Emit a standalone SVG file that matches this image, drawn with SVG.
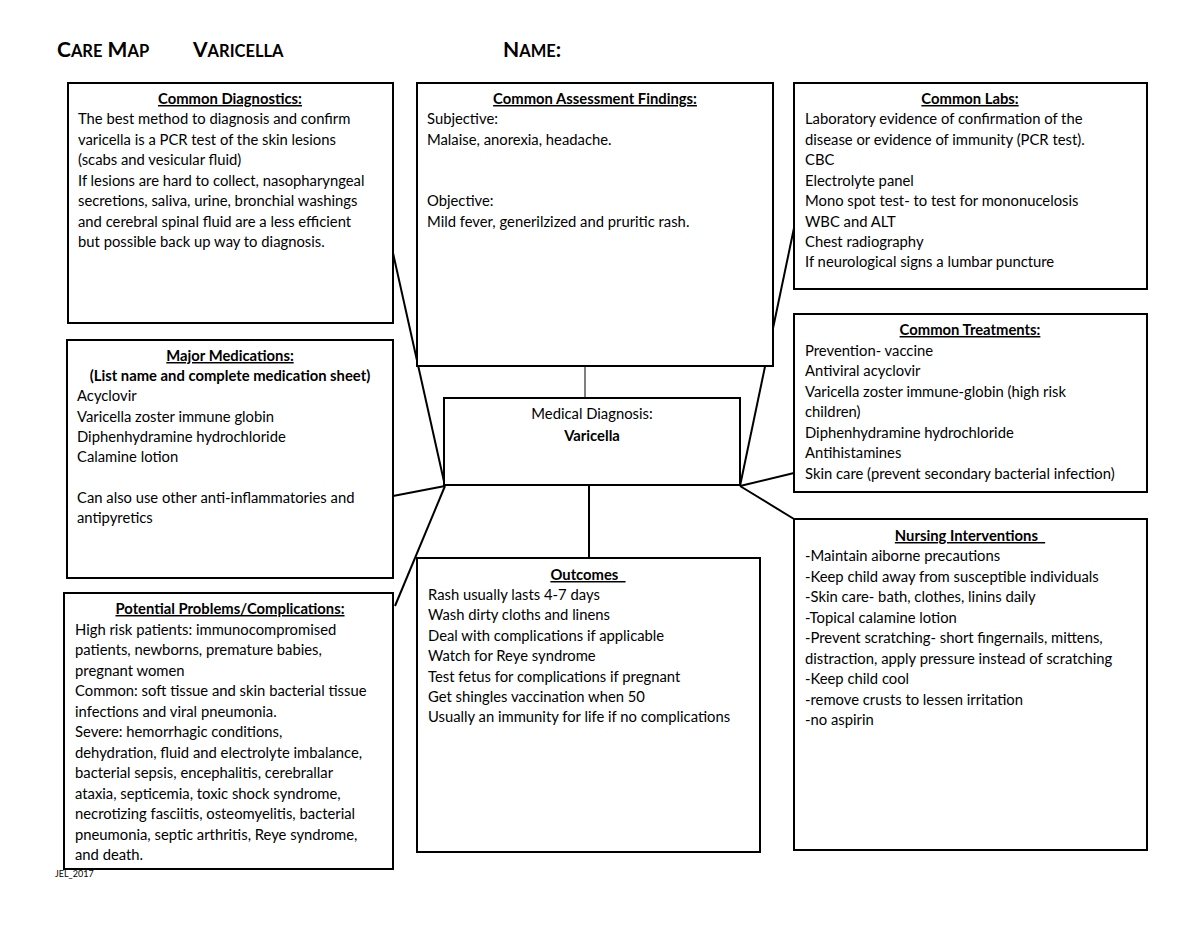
<svg xmlns="http://www.w3.org/2000/svg" width="1200" height="927" viewBox="0 0 1200 927">
<style>
.box{fill:#fff;stroke:#000;stroke-width:2}
.t{font-family:Lato,"Open Sans",sans-serif;font-size:14.8px;fill:#000}
.h{font-weight:bold;text-decoration:underline;text-anchor:middle}
.b{font-weight:bold}
.c{text-anchor:middle}
.ttl{font-family:Lato,"Open Sans",sans-serif;font-weight:bold;fill:#000;font-size:21px}
.ttl .s{font-size:16.5px}
.ln{stroke:#000;stroke-width:2;fill:none}
.foot{font-family:Lato,"Liberation Sans",sans-serif;font-size:9px;fill:#000}
</style>
<rect width="1200" height="927" fill="#fff"/>
<g id="title">
<text class="ttl" x="57" y="57">C<tspan class="s">ARE</tspan> M<tspan class="s">AP</tspan></text>
<text class="ttl" x="193" y="57">V<tspan class="s">ARICELLA</tspan></text>
<text class="ttl" x="503" y="57">N<tspan class="s">AME</tspan>:</text>
</g>
<text class="foot" x="55" y="877">JEL_2017</text>
<g id="connectors">
<line class="ln" x1="393" y1="253" x2="445" y2="486"/>
<line class="ln" x1="794" y1="228" x2="740" y2="486"/>
<line class="ln" x1="445" y1="486" x2="393" y2="496"/>
<line class="ln" x1="445" y1="486" x2="395" y2="606"/>
<line x1="585" y1="366" x2="585" y2="398" stroke="#000" stroke-width="1"/>
<line class="ln" x1="589" y1="485" x2="589" y2="558"/>
<line class="ln" x1="740" y1="486" x2="794" y2="473"/>
<line class="ln" x1="740" y1="486" x2="794" y2="519"/>
</g>
<g id="diagnostics">
<rect class="box" x="68" y="83" width="325" height="240"/>
<text class="t h" x="230" y="104">Common Diagnostics:</text>
<text class="t" x="78" y="124">The best method to diagnosis and confirm</text>
<text class="t" x="78" y="145">varicella is a PCR test of the skin lesions</text>
<text class="t" x="78" y="165">(scabs and vesicular fluid)</text>
<text class="t" x="78" y="186">If lesions are hard to collect, nasopharyngeal</text>
<text class="t" x="78" y="206">secretions, saliva, urine, bronchial washings</text>
<text class="t" x="78" y="227">and cerebral spinal fluid are a less efficient</text>
<text class="t" x="78" y="247">but possible back up way to diagnosis.</text>
</g>
<g id="assessment">
<rect class="box" x="417" y="83" width="356" height="283"/>
<text class="t h" x="595" y="104">Common Assessment Findings:</text>
<text class="t" x="427" y="124">Subjective:</text>
<text class="t" x="427" y="145">Malaise, anorexia, headache.</text>
<text class="t" x="427" y="206">Objective:</text>
<text class="t" x="427" y="227">Mild fever, generilzized and pruritic rash.</text>
</g>
<g id="labs">
<rect class="box" x="794" y="83" width="353" height="206"/>
<text class="t h" x="970" y="104">Common Labs:</text>
<text class="t" x="805" y="124">Laboratory evidence of confirmation of the</text>
<text class="t" x="805" y="145">disease or evidence of immunity (PCR test).</text>
<text class="t" x="805" y="165">CBC</text>
<text class="t" x="805" y="186">Electrolyte panel</text>
<text class="t" x="805" y="206">Mono spot test- to test for mononucelosis</text>
<text class="t" x="805" y="227">WBC and ALT</text>
<text class="t" x="805" y="247">Chest radiography</text>
<text class="t" x="805" y="267">If neurological signs a lumbar puncture</text>
</g>
<g id="medications">
<rect class="box" x="67" y="340" width="326" height="238"/>
<text class="t h" x="230" y="361">Major Medications:</text>
<text class="t b c" x="230" y="381">(List name and complete medication sheet)</text>
<text class="t" x="77" y="401">Acyclovir</text>
<text class="t" x="77" y="422">Varicella zoster immune globin</text>
<text class="t" x="77" y="442">Diphenhydramine hydrochloride</text>
<text class="t" x="77" y="462">Calamine lotion</text>
<text class="t" x="77" y="503">Can also use other anti-inflammatories and</text>
<text class="t" x="77" y="523">antipyretics</text>
</g>
<g id="diagnosis">
<rect class="box" x="444" y="398" width="296" height="87"/>
<text class="t c" x="592" y="419">Medical Diagnosis:</text>
<text class="t b c" x="592" y="441">Varicella</text>
</g>
<g id="treatments">
<rect class="box" x="794" y="314" width="353" height="178"/>
<text class="t h" x="970" y="335">Common Treatments:</text>
<text class="t" x="805" y="356">Prevention- vaccine</text>
<text class="t" x="805" y="376">Antiviral acyclovir</text>
<text class="t" x="805" y="397">Varicella zoster immune-globin (high risk</text>
<text class="t" x="805" y="417">children)</text>
<text class="t" x="805" y="438">Diphenhydramine hydrochloride</text>
<text class="t" x="805" y="458">Antihistamines</text>
<text class="t" x="805" y="479">Skin care (prevent secondary bacterial infection)</text>
</g>
<g id="problems">
<rect class="box" x="64" y="593" width="329" height="276"/>
<text class="t h" x="230" y="614">Potential Problems/Complications:</text>
<text class="t" x="75" y="635">High risk patients: immunocompromised</text>
<text class="t" x="75" y="655">patients, newborns, premature babies,</text>
<text class="t" x="75" y="676">pregnant women</text>
<text class="t" x="75" y="696">Common: soft tissue and skin bacterial tissue</text>
<text class="t" x="75" y="717">infections and viral pneumonia.</text>
<text class="t" x="75" y="737">Severe: hemorrhagic conditions,</text>
<text class="t" x="75" y="758">dehydration, fluid and electrolyte imbalance,</text>
<text class="t" x="75" y="778">bacterial sepsis, encephalitis, cerebrallar</text>
<text class="t" x="75" y="799">ataxia, septicemia, toxic shock syndrome,</text>
<text class="t" x="75" y="819">necrotizing fasciitis, osteomyelitis, bacterial</text>
<text class="t" x="75" y="840">pneumonia, septic arthritis, Reye syndrome,</text>
<text class="t" x="75" y="860">and death.</text>
</g>
<g id="outcomes">
<rect class="box" x="417" y="558" width="343" height="294"/>
<text class="t h" x="588" y="580">Outcomes&#160;&#160;</text>
<text class="t" x="428" y="600">Rash usually lasts 4-7 days</text>
<text class="t" x="428" y="620">Wash dirty cloths and linens</text>
<text class="t" x="428" y="641">Deal with complications if applicable</text>
<text class="t" x="428" y="661">Watch for Reye syndrome</text>
<text class="t" x="428" y="682">Test fetus for complications if pregnant</text>
<text class="t" x="428" y="702">Get shingles vaccination when 50</text>
<text class="t" x="428" y="722">Usually an immunity for life if no complications</text>
</g>
<g id="nursing">
<rect class="box" x="794" y="519" width="353" height="331"/>
<text class="t h" x="970" y="541">Nursing Interventions&#160;&#160;</text>
<text class="t" x="805" y="561">-Maintain aiborne precautions</text>
<text class="t" x="805" y="582">-Keep child away from susceptible individuals</text>
<text class="t" x="805" y="602">-Skin care- bath, clothes, linins daily</text>
<text class="t" x="805" y="623">-Topical calamine lotion</text>
<text class="t" x="805" y="643">-Prevent scratching- short fingernails, mittens,</text>
<text class="t" x="805" y="664">distraction, apply pressure instead of scratching</text>
<text class="t" x="805" y="684">-Keep child cool</text>
<text class="t" x="805" y="705">-remove crusts to lessen irritation</text>
<text class="t" x="805" y="725">-no aspirin</text>
</g>
</svg>
